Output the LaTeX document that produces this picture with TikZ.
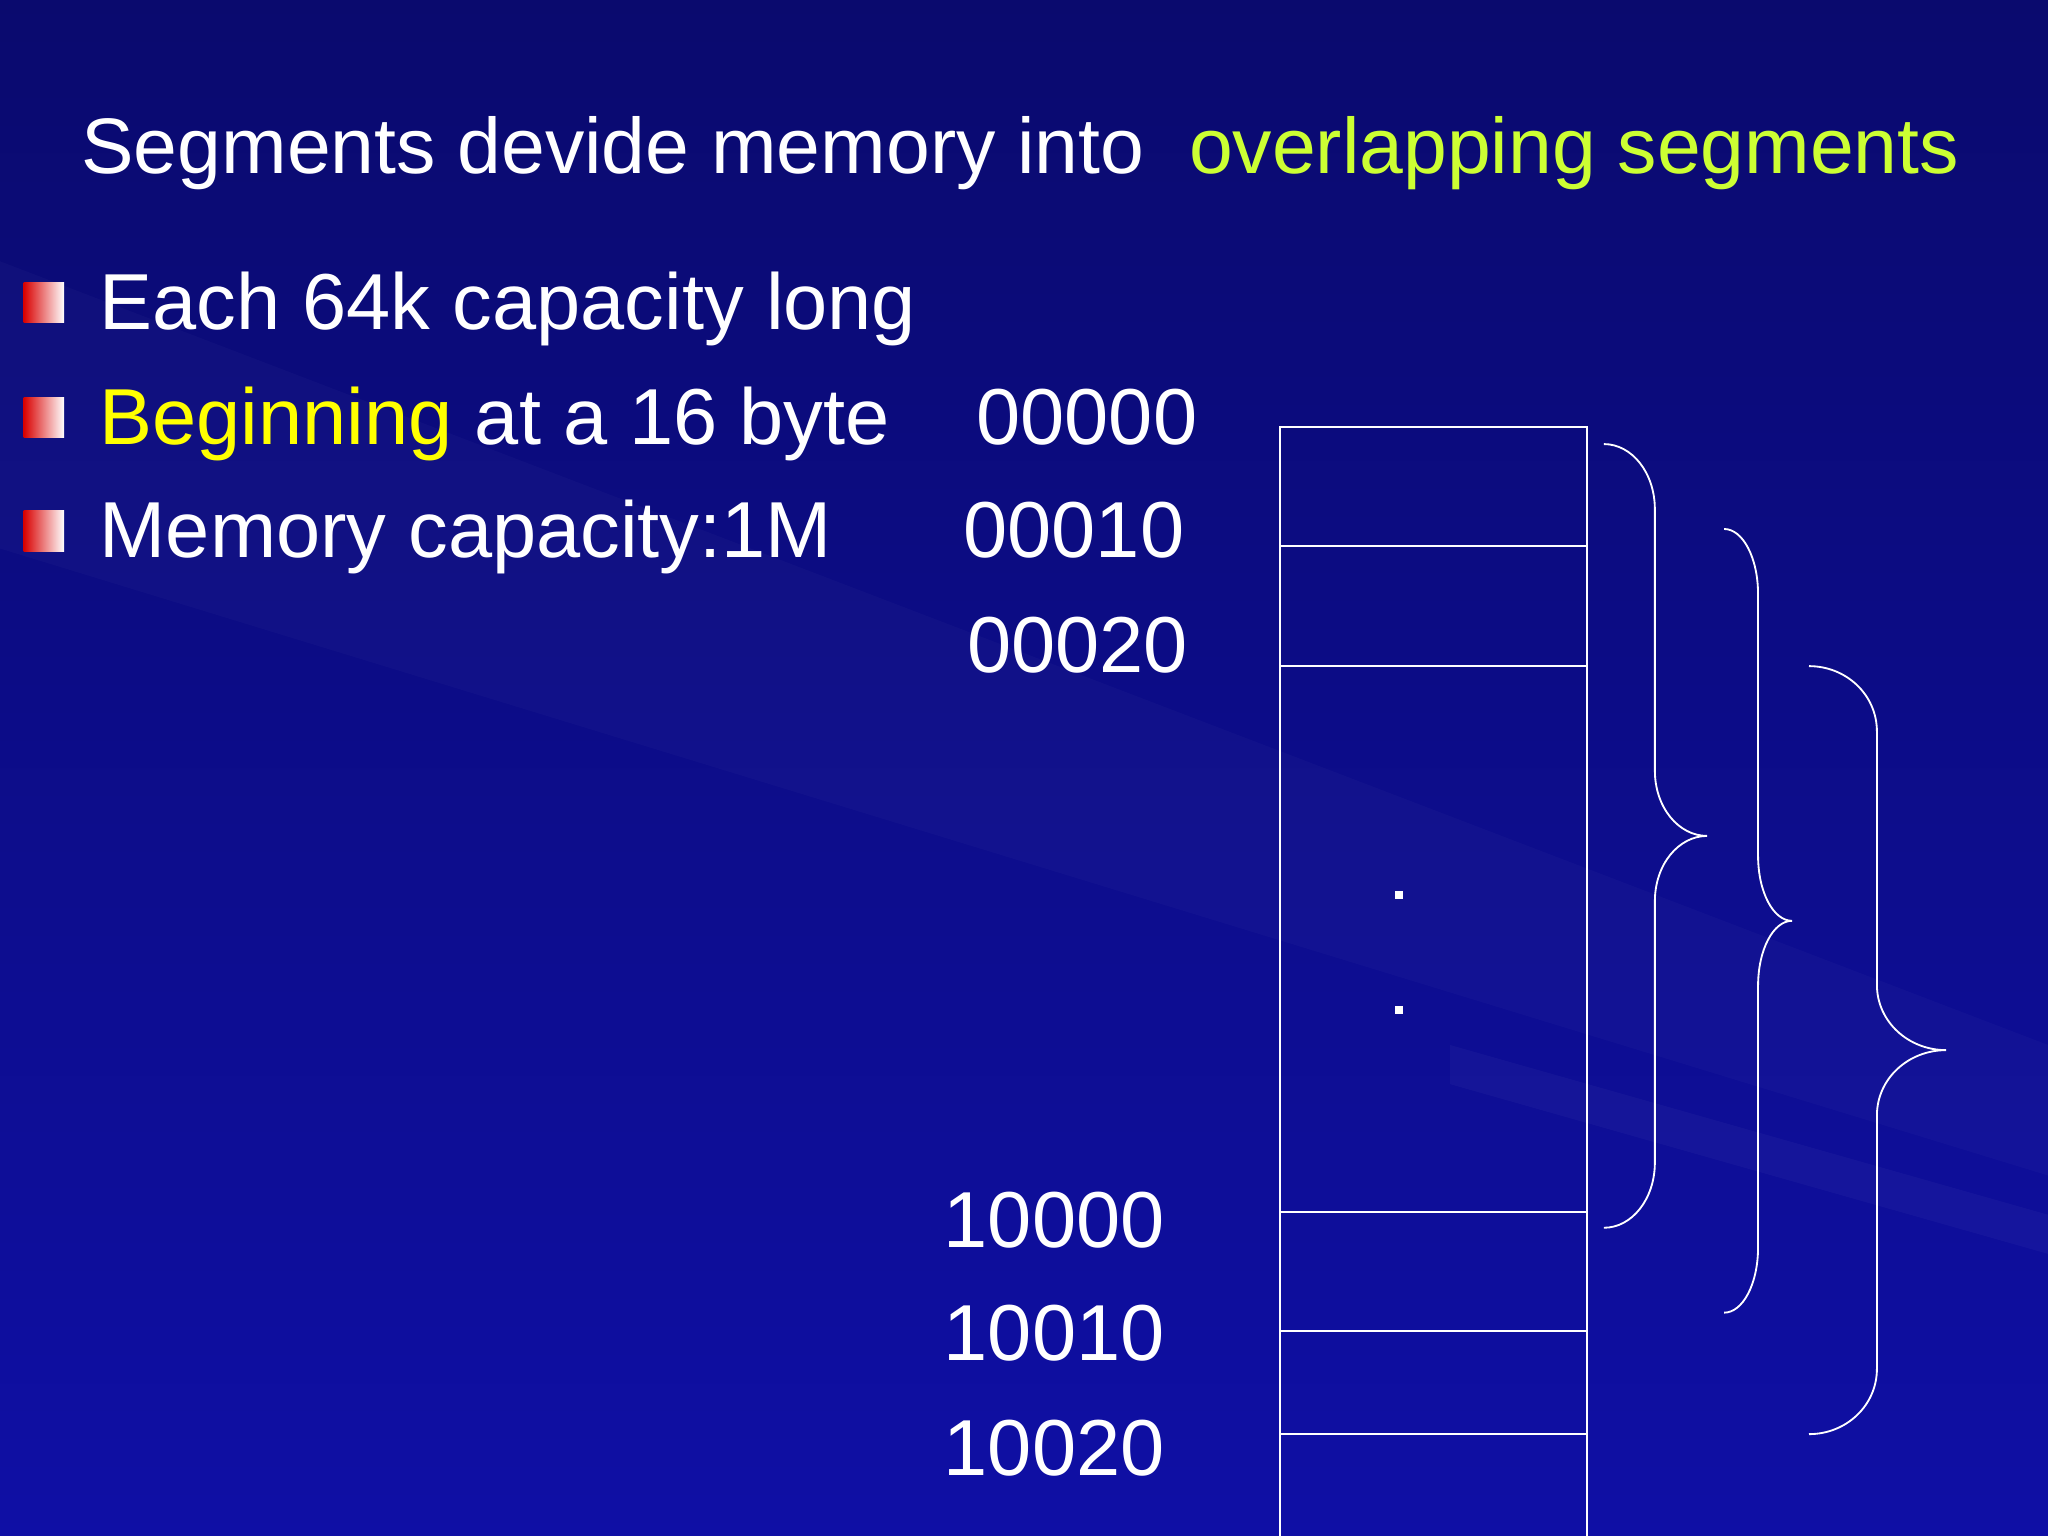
\documentclass[tikz,border=0pt]{standalone}
\usepackage{fontspec}
\setmainfont{Liberation Sans}
\usetikzlibrary{calc}
\definecolor{bgA}{RGB}{10,10,110}
\definecolor{bgB}{RGB}{15,15,165}
\definecolor{lime}{RGB}{204,255,51}
\definecolor{ylw}{RGB}{255,255,0}
\tikzset{
  ttl/.style={anchor=base west,text=white,font=\fontsize{34.3}{40}\selectfont,inner sep=0pt},
  btxt/.style={anchor=base west,text=white,font=\fontsize{34.6}{42}\selectfont,inner sep=0pt},
  num/.style={anchor=base east,text=white,font=\fontsize{34.6}{42}\selectfont,inner sep=0pt},
  bsq/.style={left color=red!85!black,right color=white,draw=none},
  cell/.style={draw=white,line width=0.8pt},
  brc/.style={draw=white,line width=0.8pt}
}
\newcommand{\mybrace}[5]{% x0 x1 x2 ytop ybot
  \pgfmathsetmacro{\ym}{(#4+#5)/2}
  \pgfmathsetmacro{\ca}{#1+0.55*(#2-#1)}
  \pgfmathsetmacro{\cb}{#3-0.55*(#3-#2)}
  \draw[brc] (#1,-#4) .. controls (\ca,-#4) and (#2,-#4-22) .. (#2,-#4-50)
    -- (#2,-\ym+50) .. controls (#2,-\ym+22) and (\cb,-\ym) .. (#3,-\ym)
    .. controls (\cb,-\ym) and (#2,-\ym-22) .. (#2,-\ym-50)
    -- (#2,-#5+50) .. controls (#2,-#5+22) and (\ca,-#5) .. (#1,-#5);}
\begin{document}
\begin{tikzpicture}[x=0.02cm,y=0.02cm]
\useasboundingbox (0,0) rectangle (1568,-1176);
\shade[top color=bgA,bottom color=bgB] (0,0) rectangle (1568,-1176);
\fill[white,opacity=0.025] (0,-200) -- (1568,-800) -- (1568,-900) -- (0,-420) -- cycle;
\fill[white,opacity=0.03] (1110,-800) -- (1568,-930) -- (1568,-960) -- (1110,-830) -- cycle;
% title
\node[ttl] (t1) at (62,-133) {Segments devide memory into};
\node[ttl,text=lime] (t2) at (910,-133) {overlapping segments};
% bullets
\shade[bsq] (18,-216) rectangle (49,-247);
\shade[bsq] (18,-304) rectangle (49,-335);
\shade[bsq] (18,-391) rectangle (49,-422);
\node[btxt] (b1) at (76,-252) {Each 64k capacity long};
\node[btxt] (b2) at (76,-340) {\textcolor{ylw}{Beginning} at a 16 byte};
\node[btxt] (b3) at (76,-427) {Memory capacity:1M};
% numbers
\node[num] (n1) at (917,-340) {00000};
\node[num] (n2) at (907,-427) {00010};
\node[num] (n3) at (910,-515) {00020};
\node[num] (n4) at (892,-955) {10000};
\node[num] (n5) at (892,-1042) {10010};
\node[num] (n6) at (892,-1130) {10020};
% memory column
\draw[cell] (980,-1176) -- (980,-327) -- (1215,-327) -- (1215,-1176);
\foreach \y in {418,510,928,1019,1098} \draw[cell] (980,-\y) -- (1215,-\y);
\fill[white] (1068,-682) rectangle (1074,-688);
\fill[white] (1068,-770) rectangle (1074,-776);
% braces
\mybrace{1228}{1267}{1307}{340}{940}
\mybrace{1320}{1346}{1372}{405}{1005}
\mybrace{1385}{1437}{1490}{510}{1098}
\end{tikzpicture}
\end{document}
